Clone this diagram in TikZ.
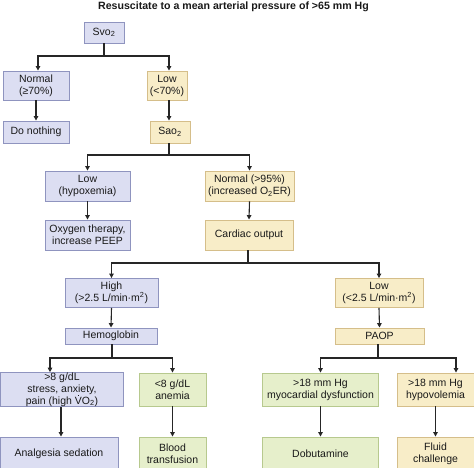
\documentclass[tikz,border=0pt]{standalone}
\usepackage{fontspec}
\setmainfont{Liberation Sans}
\usetikzlibrary{arrows.meta}
\definecolor{blueback}{HTML}{DCDEF2}
\definecolor{blueline}{HTML}{8F94BF}
\definecolor{yellowback}{HTML}{F8EDC8}
\definecolor{yellowline}{HTML}{D5BE8A}
\definecolor{greenback}{HTML}{E6EFCB}
\definecolor{greenline}{HTML}{B7C98E}
\newcommand{\lowtwo}{\textsubscript{2}}
\newcommand{\hightwo}{\textsuperscript{2}}
\newcommand{\vdotted}{\leavevmode\hbox{\ooalign{V\cr\hidewidth\smash{\raisebox{0.8em}{\rule{1.2pt}{1.2pt}}}\hidewidth\cr}}}

\begin{document}
\begin{tikzpicture}[x=1pt, y=-1pt,
  box/.style={draw, line width=0.9pt, inner sep=0pt, align=center, text=black!90,
    font=\fontsize{10.5}{12}\selectfont},
  bluebox/.style={box, draw=blueline, fill=blueback},
  yellowbox/.style={box, draw=yellowline, fill=yellowback},
  greenbox/.style={box, draw=greenline, fill=greenback},
  stem/.style={draw=black!85, line width=1.1pt},
  link/.style={stem, -{Triangle[length=4.5pt, width=4.5pt]}}]
\useasboundingbox (0,0) rectangle (474,467);
\node[font=\fontsize{10.6}{12}\selectfont\bfseries, text=black!90] (title) at (233.5,6.5)
  {Resuscitate to a mean arterial pressure of >65 mm Hg};
% first level
\node[bluebox, minimum width=40, minimum height=21] (svo) at (104,32.5) {Svo\lowtwo};
\node[bluebox, minimum width=66, minimum height=29] (normal) at (36,85.5) {Normal\\(≥70\%)};
\node[yellowbox, minimum width=40, minimum height=29] (low) at (167,85.5) {Low\\(<70\%)};
\node[bluebox, minimum width=66, minimum height=22] (nothing) at (36,132) {Do nothing};
\node[yellowbox, minimum width=40, minimum height=22] (sao) at (170,132) {Sao\lowtwo};
% second level
\node[bluebox, minimum width=85, minimum height=30] (hypox) at (87.5,186) {Low\\(hypoxemia)};
\node[yellowbox, minimum width=89, minimum height=30] (normsat) at (249.5,186) {Normal (>95\%)\\(increased O\lowtwo ER)};
\node[bluebox, minimum width=85, minimum height=30] (oxygen) at (87.5,235) {Oxygen therapy,\\increase PEEP};
\node[yellowbox, minimum width=88, minimum height=30] (cardiac) at (249,235) {Cardiac output};
% third level
\node[bluebox, minimum width=93, minimum height=29] (high) at (111.5,293) {High\\(>2.5 L/min·m\hightwo)};
\node[yellowbox, minimum width=88, minimum height=29] (lowco) at (379,293) {Low\\(<2.5 L/min·m\hightwo)};
\node[bluebox, minimum width=92, minimum height=16] (hemo) at (111,336) {Hemoglobin};
\node[yellowbox, minimum width=89, minimum height=16] (paop) at (379.5,336) {PAOP};
% fourth level
\node[bluebox, minimum width=123, minimum height=33] (stress) at (62,389.5) {>8 g/dL\\stress, anxiety,\\pain (high \vdotted O\lowtwo)};
\node[greenbox, minimum width=67, minimum height=33] (anemia) at (172.5,389.5) {<8 g/dL\\anemia};
\node[greenbox, minimum width=116, minimum height=33] (myo) at (320.5,389.5) {>18 mm Hg\\myocardial dysfunction};
\node[yellowbox, minimum width=77, minimum height=33] (hypovol) at (435.5,389.5) {>18 mm Hg\\hypovolemia};
\node[bluebox, minimum width=118, minimum height=33] (analg) at (59,453.5) {Analgesia sedation};
\node[greenbox, minimum width=67, minimum height=33] (blood) at (172.5,453.5) {Blood\\transfusion};
\node[greenbox, minimum width=116, minimum height=33] (dobut) at (320.5,453.5) {Dobutamine};
\node[yellowbox, minimum width=77, minimum height=33] (fluid) at (435.5,453.5) {Fluid\\challenge};
% splits
\coordinate (svosplit) at (104,56);
\coordinate (saosplit) at (169,155);
\coordinate (cosplit) at (248,263);
\coordinate (hemosplit) at (112,358);
\coordinate (paopsplit) at (378,358);
\draw[stem] (svo.south) -- (svosplit);
\draw[link] (svosplit) -| ([xshift=2pt]normal.north);
\draw[link] (svosplit) -| ([xshift=2pt]low.north);
\draw[link] (normal.south) -- (nothing.north);
\draw[link] ([xshift=2pt]low.south) -- ([xshift=-1pt]sao.north);
\draw[stem] ([xshift=-1pt]sao.south) -- (saosplit);
\draw[link] (saosplit) -| (hypox.north);
\draw[link] (saosplit) -| (normsat.north);
\draw[link] (hypox.south) -- (oxygen.north);
\draw[link] (normsat.south) -- (cardiac.north);
\draw[stem] ([xshift=-1pt]cardiac.south) -- (cosplit);
\draw[link] (cosplit) -| (high.north);
\draw[link] (cosplit) -| (lowco.north);
\draw[link] (high.south) -- (hemo.north);
\draw[link] (lowco.south) -- (paop.north);
\draw[stem] ([xshift=1pt]hemo.south) -- (hemosplit);
\draw[link] (hemosplit) -| ([xshift=-12pt]stress.north);
\draw[link] (hemosplit) -| (anemia.north);
\draw[stem] ([xshift=-1.5pt]paop.south) -- (paopsplit);
\draw[link] (paopsplit) -| (myo.north);
\draw[link] (paopsplit) -| ([xshift=20.5pt]hypovol.north);
\draw[link] ([xshift=-1pt]stress.south) -- ([xshift=2pt]analg.north);
\draw[link] (anemia.south) -- (blood.north);
\draw[link] (myo.south) -- (dobut.north);
\draw[link] (hypovol.south) -- (fluid.north);
\end{tikzpicture}
\end{document}
